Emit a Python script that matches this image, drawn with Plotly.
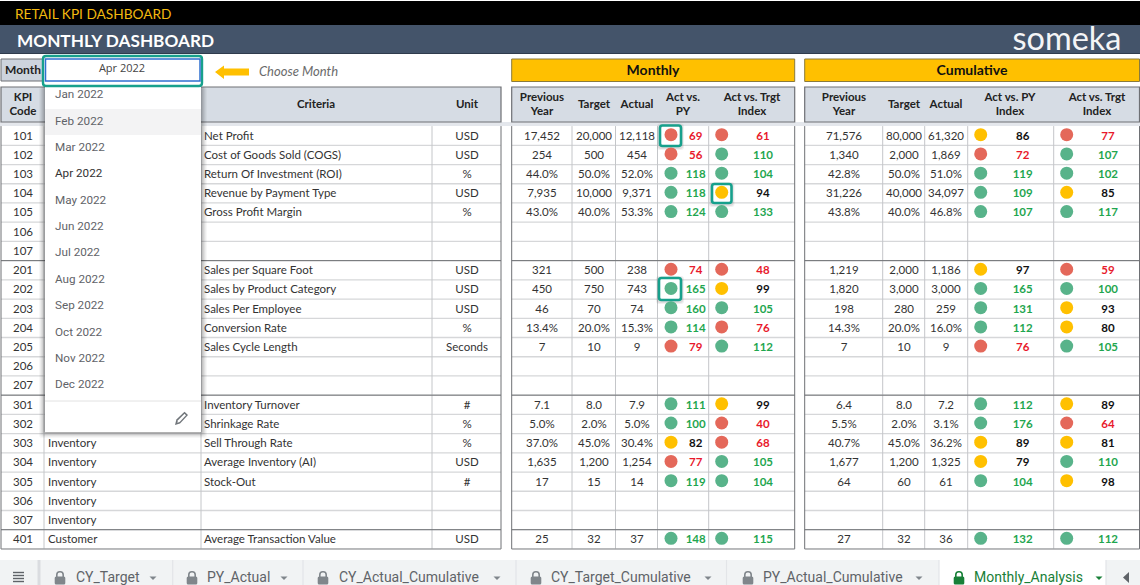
import plotly.graph_objects as go

# ---------- data ----------
kpi_codes = [101,102,103,104,105,106,107,201,202,203,204,205,206,207,301,302,303,304,305,306,307,401]
categories = [""]*16 + ["Inventory"]*5 + ["Customer"]
criteria = ["Net Profit","Cost of Goods Sold (COGS)","Return Of Investment (ROI)","Revenue by Payment Type","Gross Profit Margin","","",
            "Sales per Square Foot","Sales by Product Category","Sales Per Employee","Conversion Rate","Sales Cycle Length","","",
            "Inventory Turnover","Shrinkage Rate","Sell Through Rate","Average Inventory (AI)","Stock-Out","","",
            "Average Transaction Value"]
units = ["USD","USD","%","USD","%","","","USD","USD","USD","%","Seconds","","","#","%","%","USD","#","","","USD"]

m_prev = ["17,452","254","44.0%","7,935","43.0%","","","321","450","46","13.4%","7","","","7.1","5.0%","37.0%","1,635","17","","","25"]
m_target = ["20,000","500","50.0%","10,000","40.0%","","","500","750","70","20.0%","10","","","8.0","2.0%","45.0%","1,200","15","","","32"]
m_actual = ["12,118","454","52.0%","9,371","53.3%","","","238","743","74","15.3%","9","","","7.9","5.0%","30.4%","1,254","14","","","37"]
m_py_idx = [69,56,118,118,124,None,None,74,165,160,114,79,None,None,111,100,82,77,119,None,None,148]
m_py_flag = list("RRGGG--RGGGR--GGYRG--G")
m_tr_idx = [61,110,104,94,133,None,None,48,99,105,76,112,None,None,99,40,68,105,104,None,None,115]
m_tr_flag = list("RGGYG--RYGRG--YRRGG--G")

c_prev = ["71,576","1,340","42.8%","31,226","43.8%","","","1,219","1,820","198","14.3%","7","","","6.4","5.5%","40.7%","1,677","64","","","27"]
c_target = ["80,000","2,000","50.0%","40,000","40.0%","","","2,000","3,000","280","20.0%","10","","","8.0","2.0%","45.0%","1,200","60","","","32"]
c_actual = ["61,320","1,869","51.0%","34,097","46.8%","","","1,186","3,000","259","16.0%","9","","","7.2","3.1%","36.2%","1,325","61","","","36"]
c_py_idx = [86,72,119,109,107,None,None,97,165,131,112,76,None,None,112,176,89,79,104,None,None,132]
c_py_flag = list("YRGGG--YGGGR--GGYYG--G")
c_tr_idx = [77,107,102,85,117,None,None,59,100,93,80,105,None,None,89,64,81,110,98,None,None,112]
c_tr_flag = list("RGGYG--RGYYG--YRYGY--G")

months = ["Jan 2022","Feb 2022","Mar 2022","Apr 2022","May 2022","Jun 2022","Jul 2022","Aug 2022","Sep 2022","Oct 2022","Nov 2022","Dec 2022"]
sheet_tabs = ["CY_Target","PY_Actual","CY_Actual_Cumulative","CY_Target_Cumulative","PY_Actual_Cumulative","Monthly_Analysis"]

# ---------- layout grid ----------
W, H = 1140, 585
ROW0, ROWH = 135.7, 19.22
TOP = ROW0 - ROWH/2
ry = [ROW0 + i*ROWH for i in range(len(kpi_codes))]
BODY = "Lato"
DOT = {"R":"#e4685a","G":"#58b38a","Y":"#ffc000"}
TXT = {"R":"#e8192c","G":"#1fa64f","Y":"#111111"}
GRID = "#cfd1d4"; DARK = "#6e7074"; HEAD = "#d6dce4"; GOLD = "#ffc000"; TEAL = "#17a08c"

shapes = []
def rect(x0,y0,x1,y1,fill=None,line=None,lw=1,op=1,layer="below"):
    shapes.append(dict(type="rect",xref="x",yref="y",x0=x0,y0=y0,x1=x1,y1=y1,fillcolor=fill or "rgba(0,0,0,0)",
                       line=dict(color=line or "rgba(0,0,0,0)",width=lw if line else 0),opacity=op,layer=layer))
def seg(x0,y0,x1,y1,c=GRID,lw=1,layer="below"):
    shapes.append(dict(type="line",xref="x",yref="y",x0=x0,y0=y0,x1=x1,y1=y1,line=dict(color=c,width=lw),layer=layer))
def rrect(x0,y0,x1,y1,r,fill=None,line=None,lw=1,op=1,layer="below"):
    p=f"M{x0+r},{y0}L{x1-r},{y0}Q{x1},{y0} {x1},{y0+r}L{x1},{y1-r}Q{x1},{y1} {x1-r},{y1}L{x0+r},{y1}Q{x0},{y1} {x0},{y1-r}L{x0},{y0+r}Q{x0},{y0} {x0+r},{y0}Z"
    shapes.append(dict(type="path",xref="x",yref="y",path=p,fillcolor=fill or "rgba(0,0,0,0)",
                       line=dict(color=line or "rgba(0,0,0,0)",width=lw if line else 0),opacity=op,layer=layer))
def poly(pts,fill,layer="below"):
    shapes.append(dict(type="path",xref="x",yref="y",path="M"+"L".join(f"{a},{b}" for a,b in pts)+"Z",fillcolor=fill,line=dict(width=0),layer=layer))

fig = go.Figure()
def text(xs,ys,labels,size=11.5,color="#333333",pos="middle center",family=BODY,bold=False,italic=False):
    lab=[(f"<b>{t}</b>" if bold else (f"<i>{t}</i>" if italic else t)) for t in labels]
    fig.add_trace(go.Scatter(x=xs,y=[v+1 for v in ys],mode="text",text=lab,textposition=pos,hoverinfo="skip",showlegend=False,
                             textfont=dict(size=size,color=color,family=family)))

# banners
rect(0,1,W,25,"#000000"); rect(0,25,W,53,"#44546a"); seg(0,53.5,W,53.5,"#2f3b4c",1)
text([15],[14.5],["RETAIL KPI DASHBOARD"],size=13.7,color="#f2b90f",pos="middle right")
text([17],[41.5],["MONTHLY DASHBOARD"],size=17.2,color="#ffffff",pos="middle right",bold=True)
text([1067],[40.5],["someka"],size=32.5,color="#f4f5f6",family="Lato")

# column edges
left_edges = [1,44,201,432,501]
mon_edges = [511.7,572,615.5,657.5,708.7,794.7]
cum_edges = [804.7,882.7,924.7,967.7,1053.7,1139.5]

# month label and group titles
rect(1,59,44,81,"#cdd4de",DARK)
text([23],[70],["Month"],size=12,color="#222222",bold=True)
rect(mon_edges[0],59,mon_edges[-1],81.5,GOLD,"#8a7a3c")
rect(cum_edges[0],59,cum_edges[-1],81.5,GOLD,"#8a7a3c")
text([653],[70.5],["Monthly"],size=14,color="#111111",bold=True)
text([972],[70.5],["Cumulative"],size=14,color="#111111",bold=True)

# table bodies
rect(0,122,W,126,"#e4e7ec")
for e in (left_edges,mon_edges,cum_edges):
    for i in range(1,len(kpi_codes)+1):
        y=TOP+i*ROWH
        seg(e[0],y,e[-1],y,"#d6d7d9",1.3)
    for x in e[1:-1]:
        seg(x,TOP,x,549,"#c4c6c9",1)
    for y in (ry[7]-ROWH/2,ry[14]-ROWH/2,ry[21]-ROWH/2):
        seg(e[0],y,e[-1],y,DARK,1)
    seg(e[0],TOP,e[0],549,DARK,1); seg(e[-1],TOP,e[-1],549,DARK,1)
    seg(e[0],549,e[-1],549,"#8d8f92",1.2)
    rect(e[0],87,e[-1],122,HEAD,DARK,1.2)

# header labels
hdr = dict(size=11.5,color="#222222",bold=True)
text([23,23],[97.5,111.5],["KPI","Code"],**hdr)
text([316,467],[104,104],["Criteria","Unit"],**hdr)
text([542,542,594,637,683,683,752,752],[97,111,104,104,97,111,97,111],
     ["Previous","Year","Target","Actual","Act vs.","PY","Act vs. Trgt","Index"],**hdr)
text([844,844,904,946,1010,1010,1097,1097],[97,111,104,104,97,111,97,111],
     ["Previous","Year","Target","Actual","Act vs. PY","Index","Act vs. Trgt","Index"],**hdr)

# descriptive columns
text([23]*22,ry,[str(k) for k in kpi_codes])
text([48]*22,ry,categories,pos="middle right")
text([204]*22,ry,criteria,pos="middle right")
text([467]*22,ry,units)

# numeric columns
text([542]*22,ry,m_prev); text([594]*22,ry,m_target); text([637]*22,ry,m_actual)
text([844]*22,ry,c_prev); text([904]*22,ry,c_target); text([946]*22,ry,c_actual)

# soft shadow behind the highlighted indicators
boxes = [(660,125.5,681,146),(712,184,731.5,203),(659,278,681,300)]
for x0,y0,x1,y1 in boxes:
    for k,op in [(3,.06),(2,.08)]:
        rrect(x0-k,y0-k+1,x1+k,y1+k+1,3,"#000000",op=op)
    rect(x0,y0,x1,y1,"#ffffff")

def indicator(dot_x,num_x,idx,flag):
    keep=[i for i,v in enumerate(idx) if v is not None]
    fig.add_trace(go.Scatter(x=[dot_x]*len(keep),y=[ry[i]-1 for i in keep],mode="markers",hoverinfo="skip",showlegend=False,
        marker=dict(size=13,color=[DOT[flag[i]] for i in keep],line=dict(width=0))))
    for code in "RGY":
        sel=[i for i in keep if flag[i]==code]
        text([num_x]*len(sel),[ry[i] for i in sel],[str(idx[i]) for i in sel],size=11.5,color=TXT[code],bold=True)

indicator(671,695.7,m_py_idx,m_py_flag)
indicator(721.7,763,m_tr_idx,m_tr_flag)
indicator(980.7,1022.7,c_py_idx,c_py_flag)
indicator(1066.7,1108,c_tr_idx,c_tr_flag)

for x0,y0,x1,y1 in boxes:
    rrect(x0,y0,x1,y1,2.5,None,TEAL,2.6,layer="above")

# dropdown
for k,op in zip(range(6,0,-1),[.03,.04,.05,.06,.07,.09]):
    rrect(45-k,87,201+k,432+k,3,"#000000",op=op)
rect(45,87,201,432,"#ffffff")
rect(45,109,201,135,"#f3f3f4")
seg(45,401,201,401,"#e2e2e2",1)
month_y = [94,121,147,173.5,200,226.5,252.5,279,305,332,358,384.5]
others=[i for i in range(12) if i!=3]
text([55]*11,[month_y[i] for i in others],[months[i] for i in others],size=11.7,color="#5f6368",family="Roboto",pos="middle right")
text([55],[month_y[3]],[months[3]],size=11.7,color="#333333",family="Roboto",pos="middle right")
poly([(175,425),(176.4,419.5),(184.5,411.7),(188,415),(180,423.4)],"#70757a")
poly([(177.3,422.8),(178,420.2),(184.5,413.8),(186,415.2),(179.6,421.9)],"#ffffff")

# selected month box
rrect(43,56,202,86,3,"#ffffff",TEAL,2.4)
rect(45.5,59,200,81,"#ffffff","#2f6fd0",1.5)
text([122],[68.5],["Apr 2022"],size=11,color="#444444",family="Open Sans")

# arrow and hint
poly([(215,72),(224,65.5),(224,68.5),(249,68.5),(249,75.5),(224,75.5),(224,79)],GOLD)
text([298.5],[71.5],["Choose Month"],size=13,color="#6b6b6b",italic=True)

# sheet tabs bar
rect(0,560,W,585,"#f1f3f4")
rect(939,560,1106,585,"#ffffff")
seg(39,560,39,585,"#dadce0",3)
for x in [172.7,303,516,726.5,939,1106]:
    seg(x,560,x,585,"#e3e5e8",1.2)
for y in [572.5,575.5,578.5,581.5]:
    seg(13,y,24,y,"#5f6368",1.4)
lock_x=[60,192,323,536,748,959]
text_x=[76,207,339,551,763,974]
caret_x=[153,284,497,708,919,1099]
for i,name in enumerate(sheet_tabs):
    col="#188038" if i==5 else "#5f6368"
    ic="#188038" if i==5 else "#80868b"
    lx=lock_x[i]
    rrect(lx-3.2,571.8,lx+3.2,580,3,None,ic,1.6)
    rrect(lx-5.3,576.5,lx+5.3,584.5,1.5,ic)
    text([text_x[i]],[577],[name],size=14,color=col,family="Roboto",pos="middle right")
    cx=caret_x[i]
    poly([(cx-3.5,576.5),(cx+3.5,576.5),(cx,580)],ic)
poly([(1123,577.5),(1129,572),(1129,583)],"#5f6368")

fig.update_layout(width=W,height=H,margin=dict(l=0,r=0,t=0,b=0),paper_bgcolor="#ffffff",plot_bgcolor="#ffffff",
    shapes=shapes,showlegend=False,
    xaxis=dict(range=[0,W],visible=False,fixedrange=True),
    yaxis=dict(range=[H,0],visible=False,fixedrange=True))
fig.write_html("out.html",config=dict(displayModeBar=False),
    post_script="document.body.style.margin='0';document.body.style.overflow='hidden';")
